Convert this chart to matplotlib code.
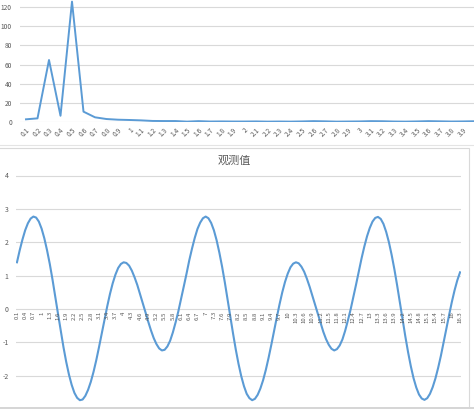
import matplotlib.pyplot as plt
from matplotlib.patches import Rectangle
from matplotlib.lines import Line2D

plt.rcParams['font.family'] = ['Noto Sans CJK SC', 'DejaVu Sans']

# top chart: spectrum, categories 0.1 .. 4.0 (last one cropped off)
spec_labels = ['0.1', '0.2', '0.3', '0.4', '0.5', '0.6', '0.7', '0.8', '0.9', '1',
               '1.1', '1.2', '1.3', '1.4', '1.5', '1.6', '1.7', '1.8', '1.9', '2',
               '2.1', '2.2', '2.3', '2.4', '2.5', '2.6', '2.7', '2.8', '2.9', '3',
               '3.1', '3.2', '3.3', '3.4', '3.5', '3.6', '3.7', '3.8', '3.9', '4']
spec_values = [2.8, 3.8, 64.7, 6.5, 125.6, 10.8, 4.9, 3.1, 2.4, 2.1,
               1.7, 1.1, 1.0, 1.0, 0.4, 0.9, 0.5, 0.6, 0.5, 0.5,
               0.6, 0.4, 0.5, 0.4, 0.6, 0.9, 0.7, 0.4, 0.5, 0.6,
               0.9, 0.8, 0.5, 0.4, 0.6, 0.9, 0.7, 0.5, 0.6, 0.8]

# bottom chart: observed values, categories 0.1 .. 16.3
obs_t = [round(0.1 * k, 1) for k in range(1, 164)]
obs_values = [
    1.40, 1.76, 2.08, 2.36, 2.57, 2.71, 2.77, 2.74, 2.62, 2.41,
    2.12, 1.76, 1.35, 0.88, 0.38, -0.14, -0.65, -1.14, -1.58, -1.96,
    -2.27, -2.51, -2.66, -2.73, -2.71, -2.60, -2.42, -2.18, -1.88, -1.53,
    -1.14, -0.73, -0.32, 0.08, 0.45, 0.77, 1.03, 1.23, 1.35, 1.40,
    1.38, 1.30, 1.15, 0.95, 0.72, 0.45, 0.17, -0.10, -0.38, -0.64,
    -0.87, -1.05, -1.18, -1.24, -1.22, -1.12, -0.95, -0.70, -0.40, -0.07,
    0.30, 0.68, 1.06,
    1.46, 1.81, 2.13, 2.40, 2.59, 2.72, 2.77, 2.72, 2.58, 2.36,
    2.06, 1.69, 1.27, 0.80, 0.29, -0.23, -0.73, -1.21, -1.64, -2.01,
    -2.31, -2.54, -2.67, -2.73, -2.69, -2.57, -2.38, -2.13, -1.82, -1.46,
    -1.07, -0.66, -0.25, 0.14, 0.50, 0.81, 1.06, 1.25, 1.36, 1.40,
    1.37, 1.27, 1.12, 0.91, 0.67, 0.40, 0.12, -0.15, -0.42, -0.68,
    -0.90, -1.07, -1.19, -1.24, -1.20, -1.09, -0.91, -0.65, -0.34, -0.01,
    0.36, 0.74, 1.13,
    1.52, 1.87, 2.18, 2.43, 2.62, 2.73, 2.76, 2.70, 2.55, 2.31,
    2.00, 1.62, 1.19, 0.71, 0.20, -0.31, -0.82, -1.29, -1.71, -2.07,
    -2.35, -2.56, -2.68, -2.72, -2.67, -2.54, -2.34, -2.08, -1.76, -1.40,
    -1.00, -0.59, -0.18, 0.21, 0.56, 0.86, 1.10]

BLUE = '#5b9bd5'
GRID = '#d9d9d9'
TXT = '#595959'
W, H = 474, 409


def px_box(x0, y_top, x1, y_bot):
    return [x0 / W, 1 - y_bot / H, (x1 - x0) / W, (y_bot - y_top) / H]


fig = plt.figure(figsize=(W / 100, H / 100), dpi=100)

# ---- top chart (cropped at top and right) ----
ax1 = fig.add_axes(px_box(20.25, 122 - 140 * 0.9583, 480.25, 122))
ax1.plot(range(len(spec_values)), spec_values, color=BLUE, lw=1.4)
ax1.set_xlim(-0.5, len(spec_values) - 0.5)
ax1.set_ylim(0, 140)
ax1.set_yticks(range(0, 141, 20))
ax1.set_yticklabels([str(v) for v in range(0, 121, 20)] + [''])
ax1.set_xticks(range(len(spec_labels)))
# the last category label falls outside the cropped picture
ax1.set_xticklabels(spec_labels[:-1] + [''], rotation=45, ha='right',
                    rotation_mode='anchor')
ax1.yaxis.grid(True, color=GRID, lw=0.8)
ax1.set_axisbelow(True)
for s in ax1.spines.values():
    s.set_visible(False)
ax1.tick_params(length=0, labelsize=4.8, colors=TXT)
ax1.tick_params(axis='y', pad=6)
ax1.tick_params(axis='x', pad=3)

# separator / chart border of the lower chart
fig.add_artist(Line2D([0, 1], [1 - 145 / H] * 2, color='#e4e4e4', lw=0.8))
fig.add_artist(Rectangle((-0.01, -0.01), 469 / W + 0.01, 1 - 148 / H + 0.01,
                         transform=fig.transFigure, fill=False, ec=GRID, lw=0.8))
fig.add_artist(Rectangle((0, 0), 1, 2.5 / H, transform=fig.transFigure,
                         color='#d6d6d6', lw=0))

# ---- bottom chart ----
ax2 = fig.add_axes(px_box(15.6, 175.5, 461.4, 409.2))
ax2.plot(range(len(obs_values)), obs_values, color=BLUE, lw=1.5)
ax2.set_xlim(-0.5, len(obs_values) - 0.5)
ax2.set_ylim(-3, 4)
ax2.set_yticks(range(-3, 5))
ax2.set_yticklabels([''] + [str(v) for v in range(-2, 5)])
ax2.set_xticks([])
ax2.yaxis.grid(True, color=GRID, lw=0.8)
ax2.set_axisbelow(True)
for s in ax2.spines.values():
    s.set_visible(False)
ax2.tick_params(length=0, labelsize=5, colors=TXT, pad=5)

# category labels sit on the zero line, every third category
for i in range(0, len(obs_t), 3):
    ax2.annotate(f"{obs_t[i]:g}", xy=(i, 0), xytext=(0, -1.5),
                 textcoords='offset points', rotation=90,
                 ha='center', va='top', fontsize=4.3, color=TXT)

fig.text(234 / W, 1 - 160.5 / H, '观测值', ha='center', va='center',
         fontsize=8, color=TXT)

fig.savefig('out.png', dpi=100)
